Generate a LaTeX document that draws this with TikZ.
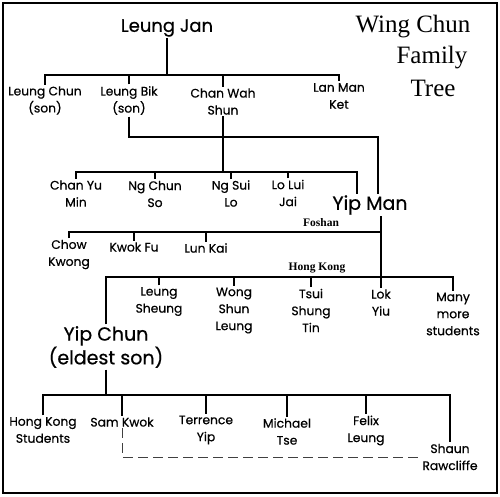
\documentclass[tikz,border=0pt]{standalone}
\usepackage{fontspec}
\newfontfamily\futfont[FakeBold=0.6]{Poppins}
\newfontfamily\serfont{Liberation Serif}
\newcommand\fsmall{\futfont\fontsize{12.3}{17}\selectfont}
\newcommand\fbig{\futfont\fontsize{19}{21}\selectfont}
\newcommand\fjan{\futfont\fontsize{18}{21}\selectfont}
\newcommand\ftitle{\serfont\fontsize{25}{30}\selectfont}
\newcommand\fplace{\serfont\bfseries\fontsize{11.5}{13}\selectfont}
\begin{document}
\begin{tikzpicture}[x=1pt,y=-1pt,
  nm/.style={font=\fsmall,align=center,inner sep=1.5pt},
  bignm/.style={font=\fbig,align=center,inner sep=1.5pt},
  ttl/.style={font=\ftitle,inner sep=0pt},
  place/.style={font=\fplace,inner sep=0pt},
  ln/.style={line width=1.5pt},
  dln/.style={line width=1pt,black!75,dash pattern=on 10pt off 5pt}]
\useasboundingbox (0,0) rectangle (500,496);
\draw[line width=1.6pt] (3,3) rectangle (497,493);
% title
\node[ttl] (t1) at (413,27) {Wing Chun};
\node[ttl] (t2) at (432,58) {Family};
\node[ttl] (t3) at (433,88) {Tree};
% level 1
\node[font=\fjan,inner sep=1.5pt] (lj) at (167,28) {Leung Jan};
% level 2
\node[nm] (lc) at (45,100.5) {Leung Chun\\(son)};
\node[nm] (lb) at (129,100.5) {Leung Bik\\(son)};
\node[nm] (cws) at (223,101.5) {Chan Wah\\Shun};
\node[nm] (lmk) at (339,96) {Lan Man\\Ket};
\coordinate (b1) at (167,75);
\draw[ln] (lj.south) -- (b1);
\draw[ln] (lc.north) -- (lc.north |- b1) -- (lmk.north |- b1) -- (lmk.north);
\draw[ln] (lb.north) -- (lb.north |- b1);
\draw[ln] (cws.north) -- (cws.north |- b1);
% level 3
\node[nm] (cym) at (76,193.5) {Chan Yu\\Min};
\node[nm] (ncs) at (155,194) {Ng Chun\\So};
\node[nm] (nsl) at (231,193.5) {Ng Sui\\Lo};
\node[nm] (llj) at (288,193) {Lo Lui\\Jai};
\node[bignm] (ym) at (370,205) {Yip Man};
\coordinate (bk) at (378,137);
\draw[ln] (lb.south) |- (bk) -- (bk |- ym.north);
\coordinate (b2) at (223,172);
\coordinate (b2r) at (357,172);
\draw[ln] (cws.south) -- (b2);
\draw[ln] (cym.north) -- (cym.north |- b2) -- (b2r) -- (b2r |- ym.north);
\draw[ln] (ncs.north) -- (ncs.north |- b2);
\draw[ln] (nsl.north) -- (nsl.north |- b2);
\draw[ln] (llj.north) -- (llj.north |- b2);
% Foshan
\node[place] (fos) at (321,223) {Foshan};
\node[nm] (ckw) at (69,254.5) {Chow\\Kwong};
\node[nm] (kf) at (134,247) {Kwok Fu};
\node[nm] (lk) at (206,248) {Lun Kai};
\coordinate (ymd) at (381,232);
\draw[ln] (ckw.north) -- (ckw.north |- ymd) -- (ymd);
\draw[ln] (kf.north) -- (kf.north |- ymd);
\draw[ln] (lk.north) -- (lk.north |- ymd);
% Hong Kong
\node[place] (hk) at (317,268) {Hong Kong};
\node[nm] (ls) at (159,301.5) {Leung\\Sheung};
\node[nm] (wsl) at (234,310.5) {Wong\\Shun\\Leung};
\node[nm] (tst) at (311,310.5) {Tsui\\Shung\\Tin};
\node[nm] (ly) at (381,302.5) {Lok\\Yiu};
\node[nm] (mms) at (453,314) {Many\\more\\students};
\node[bignm,align=center] (yc) at (106,347) {Yip Chun\\(eldest son)};
\draw[ln] (ym.south -| ymd) -- (ly.north);
\coordinate (b4) at (381,277);
\draw[ln] (yc.north) -- (yc.north |- b4) -- (mms.north |- b4) -- (mms.north);
\draw[ln] (ls.north) -- (ls.north |- b4);
\draw[ln] (wsl.north) -- (wsl.north |- b4);
\draw[ln] (tst.north) -- (tst.north |- b4);
% Yip Chun students
\node[nm] (hks) at (43,430) {Hong Kong\\Students};
\node[nm] (sk) at (122,422) {Sam Kwok};
\node[nm] (ty) at (206,430) {Terrence\\Yip};
\node[nm] (mt) at (287,431.5) {Michael\\Tse};
\node[nm] (fl) at (366,430.5) {Felix\\Leung};
\node[nm] (sr) at (450,457) {Shaun\\Rawcliffe};
\coordinate (b5) at (106,395);
\draw[ln] (yc.south) -- (b5);
\draw[ln] (hks.north) -- (hks.north |- b5) -- (sr.north |- b5) -- (sr.north);
\draw[ln] (sk.north) -- (sk.north |- b5);
\draw[ln] (ty.north) -- (ty.north |- b5);
\draw[ln] (mt.north) -- (mt.north |- b5);
\draw[ln] (fl.north) -- (fl.north |- b5);
\coordinate (dk) at (122,457);
\draw[dln] (sk.south) -- (dk) -- (sr.west);
\end{tikzpicture}
\end{document}
